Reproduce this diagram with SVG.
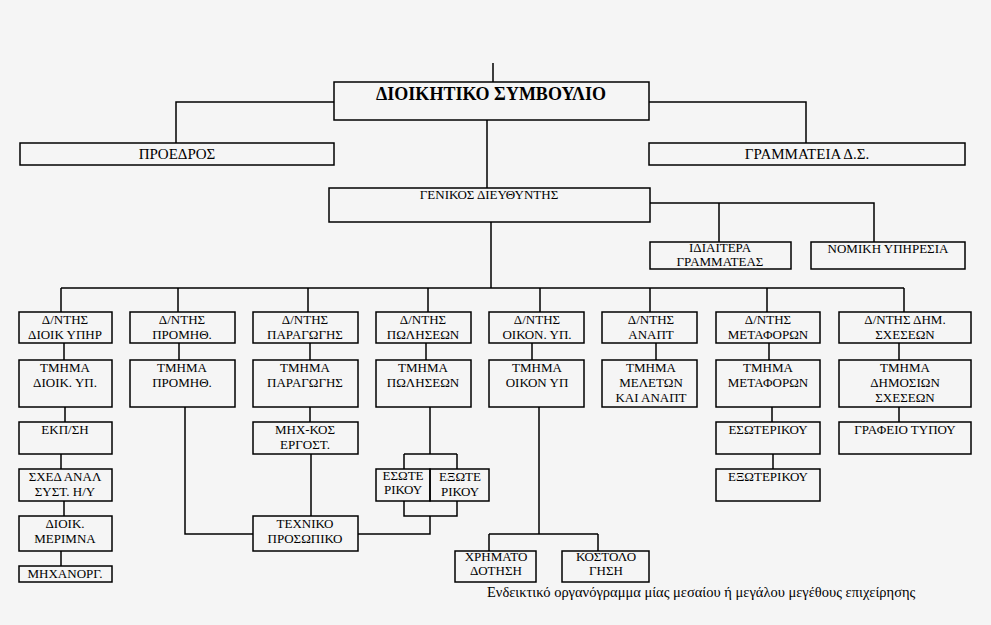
<svg xmlns="http://www.w3.org/2000/svg" width="991" height="625" viewBox="0 0 991 625">
<style>
rect.b{fill:none;stroke:#000;stroke-width:1.5}
.c path{fill:none;stroke:#000;stroke-width:1.5}
text{font-family:"Liberation Serif","Times New Roman",serif;font-size:13px;text-anchor:middle;fill:#000}
.t{font-size:18px;font-weight:bold}
.m{font-size:15px}
.cap{font-size:14.5px;text-anchor:start}
</style>
<rect width="991" height="625" fill="#f5f5f5"/>
<g class="c">
<path d="M493 63V82M334 102H176V143M649 102H806V143M487 120V188M650 203H874V242M719 203V242M491 222V288M61 288H904M61 288V312M178 288V312M308 288V312M428 288V312M540 288V312M650 288V312M767 288V312M904 288V312"/>
<path d="M64 343V360M179 343V360M310 343V360M426 343V360M532 343V360M656 343V360M769 343V360M899 343V360"/>
<path d="M65 407V422M61 454V469M64 501V516M61 551V566"/>
<path d="M185 407V534H253M310 407V422M311 454V516"/>
<path d="M430 407V454M404 454H457M404 454V469M457 454V469M404 501V516H457V501M430 516V534H358"/>
<path d="M539 407V534M489 534H598M489 534V551M598 534V551"/>
<path d="M772 407V422M773 454V469M899 407V422"/>
</g>
<g id="n-board"><rect class="b" x="334" y="82" width="315" height="38"/><text class="t" x="491" y="100">ΔΙΟΙΚΗΤΙΚΟ ΣΥΜΒΟΥΛΙΟ</text></g>
<g id="n-proedros"><rect class="b" x="20" y="143" width="314" height="22"/><text class="m" x="177" y="159">ΠΡΟΕΔΡΟΣ</text></g>
<g id="n-grammateia"><rect class="b" x="649" y="143" width="316" height="22"/><text class="m" x="807" y="159">ΓΡΑΜΜΑΤΕΙΑ Δ.Σ.</text></g>
<g id="n-gd"><rect class="b" x="329" y="188" width="321" height="34"/><text x="489" y="199">ΓΕΝΙΚΟΣ ΔΙΕΥΘΥΝΤΗΣ</text></g>
<g id="n-idiaitera"><rect class="b" x="650" y="242" width="141" height="27"/><text x="720" y="252">ΙΔΙΑΙΤΕΡΑ</text><text x="720" y="266">ΓΡΑΜΜΑΤΕΑΣ</text></g>
<g id="n-nomiki"><rect class="b" x="811" y="242" width="154" height="27"/><text x="888" y="253">ΝΟΜΙΚΗ ΥΠΗΡΕΣΙΑ</text></g>

<g id="n-d1"><rect class="b" x="19" y="312" width="93" height="31"/><text x="65" y="324">Δ/ΝΤΗΣ</text><text x="65" y="339">ΔΙΟΙΚ ΥΠΗΡ</text></g>
<g id="n-d2"><rect class="b" x="130" y="312" width="105" height="31"/><text x="182" y="324">Δ/ΝΤΗΣ</text><text x="182" y="339">ΠΡΟΜΗΘ.</text></g>
<g id="n-d3"><rect class="b" x="253" y="312" width="105" height="31"/><text x="305" y="324">Δ/ΝΤΗΣ</text><text x="305" y="339">ΠΑΡΑΓΩΓΗΣ</text></g>
<g id="n-d4"><rect class="b" x="376" y="312" width="95" height="31"/><text x="423" y="324">Δ/ΝΤΗΣ</text><text x="423" y="339">ΠΩΛΗΣΕΩΝ</text></g>
<g id="n-d5"><rect class="b" x="489" y="312" width="95" height="31"/><text x="537" y="324">Δ/ΝΤΗΣ</text><text x="537" y="339">ΟΙΚΟΝ. ΥΠ.</text></g>
<g id="n-d6"><rect class="b" x="602" y="312" width="95" height="31"/><text x="651" y="324">Δ/ΝΤΗΣ</text><text x="651" y="339">ΑΝΑΠΤ</text></g>
<g id="n-d7"><rect class="b" x="716" y="312" width="104" height="31"/><text x="768" y="324">Δ/ΝΤΗΣ</text><text x="768" y="339">ΜΕΤΑΦΟΡΩΝ</text></g>
<g id="n-d8"><rect class="b" x="839" y="312" width="132" height="31"/><text x="905" y="324">Δ/ΝΤΗΣ ΔΗΜ.</text><text x="905" y="339">ΣΧΕΣΕΩΝ</text></g>

<g id="n-t1"><rect class="b" x="19" y="360" width="93" height="47"/><text x="65" y="372">ΤΜΗΜΑ</text><text x="65" y="387">ΔΙΟΙΚ. ΥΠ.</text></g>
<g id="n-t2"><rect class="b" x="130" y="360" width="105" height="47"/><text x="182" y="372">ΤΜΗΜΑ</text><text x="182" y="387">ΠΡΟΜΗΘ.</text></g>
<g id="n-t3"><rect class="b" x="253" y="360" width="105" height="47"/><text x="305" y="372">ΤΜΗΜΑ</text><text x="305" y="387">ΠΑΡΑΓΩΓΗΣ</text></g>
<g id="n-t4"><rect class="b" x="376" y="360" width="95" height="47"/><text x="423" y="372">ΤΜΗΜΑ</text><text x="423" y="387">ΠΩΛΗΣΕΩΝ</text></g>
<g id="n-t5"><rect class="b" x="489" y="360" width="95" height="47"/><text x="537" y="372">ΤΜΗΜΑ</text><text x="537" y="387">ΟΙΚΟΝ ΥΠ</text></g>
<g id="n-t6"><rect class="b" x="602" y="360" width="95" height="47"/><text x="651" y="372">ΤΜΗΜΑ</text><text x="651" y="387">ΜΕΛΕΤΩΝ</text><text x="651" y="402">ΚΑΙ ΑΝΑΠΤ</text></g>
<g id="n-t7"><rect class="b" x="716" y="360" width="104" height="47"/><text x="768" y="372">ΤΜΗΜΑ</text><text x="768" y="387">ΜΕΤΑΦΟΡΩΝ</text></g>
<g id="n-t8"><rect class="b" x="839" y="360" width="132" height="47"/><text x="905" y="372">ΤΜΗΜΑ</text><text x="905" y="387">ΔΗΜΟΣΙΩΝ</text><text x="905" y="402">ΣΧΕΣΕΩΝ</text></g>

<g id="n-ekp"><rect class="b" x="19" y="422" width="93" height="32"/><text x="65" y="434">ΕΚΠ/ΣΗ</text></g>
<g id="n-sxed"><rect class="b" x="19" y="469" width="93" height="32"/><text x="65" y="481">ΣΧΕΔ ΑΝΑΛ</text><text x="65" y="496">ΣΥΣΤ. Η/Υ</text></g>
<g id="n-merimna"><rect class="b" x="19" y="516" width="93" height="35"/><text x="65" y="528">ΔΙΟΙΚ.</text><text x="65" y="543">ΜΕΡΙΜΝΑ</text></g>
<g id="n-mixanorg"><rect class="b" x="19" y="566" width="93" height="16"/><text x="65" y="578">ΜΗΧΑΝΟΡΓ.</text></g>
<g id="n-mixkos"><rect class="b" x="253" y="422" width="105" height="32"/><text x="305" y="434">ΜΗΧ-ΚΟΣ</text><text x="305" y="449">ΕΡΓΟΣΤ.</text></g>
<g id="n-texniko"><rect class="b" x="253" y="516" width="105" height="35"/><text x="305" y="528">ΤΕΧΝΙΚΟ</text><text x="305" y="543">ΠΡΟΣΩΠΙΚΟ</text></g>
<g id="n-esote"><rect class="b" x="376" y="469" width="54" height="32"/><text x="403" y="480">ΕΣΩΤΕ</text><text x="403" y="494">ΡΙΚΟΥ</text></g>
<g id="n-exote"><rect class="b" x="430" y="469" width="59" height="32"/><text x="460" y="481">ΕΞΩΤΕ</text><text x="460" y="496">ΡΙΚΟΥ</text></g>
<g id="n-xrimato"><rect class="b" x="455" y="551" width="81" height="31"/><text x="496" y="561">ΧΡΗΜΑΤΟ</text><text x="496" y="575">ΔΟΤΗΣΗ</text></g>
<g id="n-kostolo"><rect class="b" x="562" y="551" width="87" height="31"/><text x="606" y="561">ΚΟΣΤΟΛΟ</text><text x="606" y="575">ΓΗΣΗ</text></g>
<g id="n-esoterikou"><rect class="b" x="716" y="422" width="104" height="32"/><text x="768" y="434">ΕΣΩΤΕΡΙΚΟΥ</text></g>
<g id="n-exoterikou"><rect class="b" x="716" y="469" width="104" height="32"/><text x="768" y="481">ΕΞΩΤΕΡΙΚΟΥ</text></g>
<g id="n-grafeio"><rect class="b" x="839" y="422" width="132" height="32"/><text x="905" y="434">ΓΡΑΦΕΙΟ ΤΥΠΟΥ</text></g>
<text class="cap" x="487" y="597">Ενδεικτικό οργανόγραμμα μίας μεσαίου ή μεγάλου μεγέθους επιχείρησης</text>
</svg>
